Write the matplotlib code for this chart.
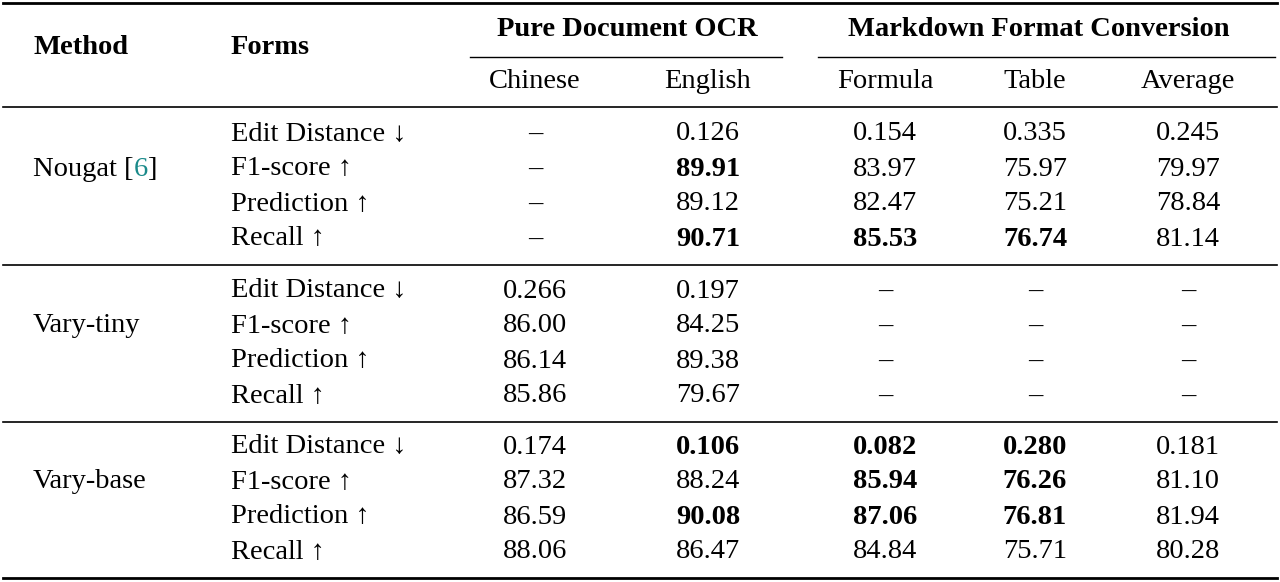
import matplotlib.pyplot as plt

plt.rcParams['font.family'] = ['Liberation Serif', 'DejaVu Serif']

methods = ["Nougat", "Vary-tiny", "Vary-base"]
forms = ["Edit Distance \u2193", "F1-score \u2191", "Prediction \u2191", "Recall \u2191"]
cols = ["Chinese", "English", "Formula", "Table", "Average"]
D = "\u2013"
nougat = [[D, "0.126", "0.154", "0.335", "0.245"],
          [D, "89.91", "83.97", "75.97", "79.97"],
          [D, "89.12", "82.47", "75.21", "78.84"],
          [D, "90.71", "85.53", "76.74", "81.14"]]
vary_tiny = [["0.266", "0.197", D, D, D],
             ["86.00", "84.25", D, D, D],
             ["86.14", "89.38", D, D, D],
             ["85.86", "79.67", D, D, D]]
vary_base = [["0.174", "0.106", "0.082", "0.280", "0.181"],
             ["87.32", "88.24", "85.94", "76.26", "81.10"],
             ["86.59", "90.08", "87.06", "76.81", "81.94"],
             ["88.06", "86.47", "84.84", "75.71", "80.28"]]
bold = {(0, 1, 1), (0, 3, 1), (0, 3, 2), (0, 3, 3),
        (2, 0, 1), (2, 0, 2), (2, 0, 3), (2, 1, 2), (2, 1, 3),
        (2, 2, 1), (2, 2, 2), (2, 2, 3)}
data = [nougat, vary_tiny, vary_base]

fig = plt.figure(figsize=(12.8, 5.82), dpi=100)
ax = fig.add_axes([0, 0, 1, 1])
ax.set_xlim(0, 1280)
ax.set_ylim(582, 0)
ax.axis('off')
fs = 20.5
col_x = [535, 708, 885, 1035, 1188]

ax.plot([3, 1277], [3, 3], color='black', lw=2)
ax.text(33, 47, "Method", fontsize=fs, weight='bold', va='center')
ax.text(231, 47, "Forms", fontsize=fs, weight='bold', va='center')
ax.text(627, 30, "Pure Document OCR", fontsize=fs, weight='bold', va='center', ha='center')
ax.text(1039, 30, "Markdown Format Conversion", fontsize=fs, weight='bold', va='center', ha='center')
ax.plot([470, 782], [57, 57], color='black', lw=1)
ax.plot([818, 1275], [57, 57], color='black', lw=1)
for x, c in zip(col_x, cols):
    ax.text(x, 82, c, fontsize=fs, va='center', ha='center')
ax.plot([3, 1277], [107, 107], color='black', lw=1.2)

row_top = [134, 291, 447]
for g, m in enumerate(methods):
    y0 = row_top[g]
    if g == 0:
        t = ax.text(33, y0 + 36, "Nougat [", fontsize=fs, va='center')
        t2 = ax.annotate("6", xycoords=t, xy=(1, 0.5), va='center', fontsize=fs, color='#1a8a8a')
        ax.annotate("]", xycoords=t2, xy=(1, 0.5), va='center', fontsize=fs)
    else:
        ax.text(33, y0 + 35, m, fontsize=fs, va='center')
    for r in range(4):
        y = y0 + r * 35
        ax.text(231, y, forms[r], fontsize=fs, va='center')
        for c in range(5):
            w = 'bold' if (g, r, c) in bold else 'normal'
            ax.text(col_x[c], y, data[g][r][c], fontsize=fs, va='center', ha='center', weight=w)
    if g < 2:
        ax.plot([3, 1277], [y0 + 131, y0 + 131], color='black', lw=1.2)
ax.plot([3, 1277], [578, 578], color='black', lw=2)

fig.savefig("out.png", dpi=100)
